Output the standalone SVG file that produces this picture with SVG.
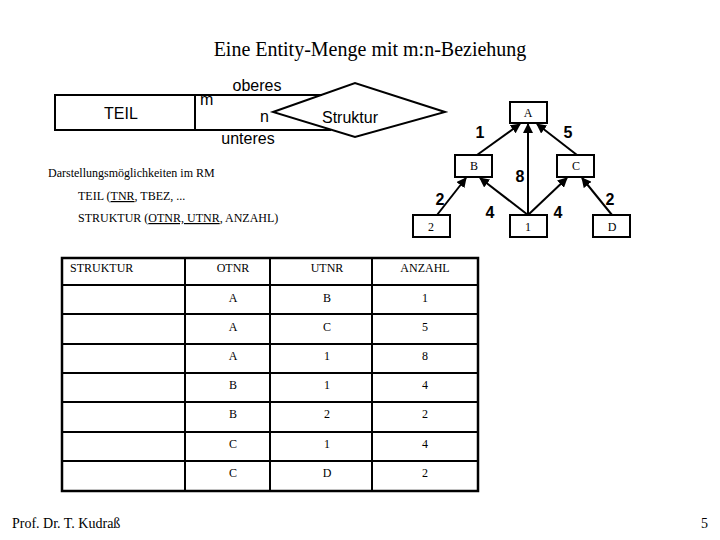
<svg xmlns="http://www.w3.org/2000/svg" width="720" height="540" viewBox="0 0 720 540">
<style>
.s{font-family:"Liberation Sans",Arial,sans-serif;font-size:16px}
.b{font-family:"Liberation Sans",Arial,sans-serif;font-size:16px;font-weight:bold}
.c{font-family:"Liberation Serif","DejaVu Serif",serif;font-size:12px}
.t{font-family:"Liberation Serif","DejaVu Serif",serif;font-size:12px;text-anchor:middle}
.box{fill:#fff;stroke:#000;stroke-width:2}
.ln{stroke:#000;stroke-width:2;fill:none}
</style>
<defs><marker id="ah" viewBox="0 0 10 10" refX="9" refY="5" markerWidth="5" markerHeight="5" orient="auto"><path d="M0,0L10,5L0,10z"/></marker></defs>
<rect width="720" height="540" fill="#fff"/>
<text x="370" y="56" text-anchor="middle" font-family="Liberation Serif,serif" font-size="20">Eine Entity-Menge mit m:n-Beziehung</text>
<g id="er">
<line class="ln" x1="195" y1="95" x2="322" y2="95"/>
<line class="ln" x1="195" y1="130" x2="331" y2="130"/>
<rect class="box" x="55" y="95" width="140" height="35"/>
<polygon class="ln" points="273,112 355,83 445,112 355,137"/>
<text class="s" x="121" y="119" text-anchor="middle">TEIL</text>
<text class="s" x="350" y="123" text-anchor="middle">Struktur</text>
<text class="s" x="257" y="91" text-anchor="middle">oberes</text>
<text class="s" x="248" y="144" text-anchor="middle">unteres</text>
<text class="s" x="200" y="105">m</text>
<text class="s" x="260" y="122">n</text>
</g>
<g id="rm" class="c">
<text x="48" y="177">Darstellungsmöglichkeiten im RM</text>
<text x="78" y="200">TEIL (<tspan text-decoration="underline">TNR</tspan>, TBEZ, ...</text>
<text x="78" y="222">STRUKTUR (<tspan text-decoration="underline">OTNR, UTNR</tspan>, ANZAHL)</text>
</g>
<g id="connectors" class="ln" marker-end="url(#ah)">
<line x1="477" y1="155" x2="520" y2="124"/>
<line x1="528" y1="215" x2="528" y2="124"/>
<line x1="577" y1="155" x2="537" y2="124"/>
<line x1="437" y1="215" x2="466" y2="178"/>
<line x1="528" y1="215" x2="480" y2="178"/>
<line x1="528" y1="215" x2="567" y2="178"/>
<line x1="612" y1="215" x2="582" y2="178"/>
</g>
<g id="nA"><rect class="box" x="510" y="102" width="37" height="21"/><text class="t" x="528" y="117">A</text></g>
<g id="nB"><rect class="box" x="455" y="155" width="37" height="22"/><text class="t" x="474" y="170">B</text></g>
<g id="nC"><rect class="box" x="557" y="155" width="37" height="22"/><text class="t" x="576" y="170">C</text></g>
<g id="n2"><rect class="box" x="413" y="215" width="37" height="22"/><text class="t" x="431" y="231">2</text></g>
<g id="n1"><rect class="box" x="510" y="215" width="37" height="22"/><text class="t" x="528" y="231">1</text></g>
<g id="nD"><rect class="box" x="593" y="215" width="37" height="22"/><text class="t" x="612" y="231">D</text></g>
<g id="labels" class="b" text-anchor="middle">
<text x="480" y="138">1</text><text x="568" y="138">5</text><text x="520" y="182">8</text>
<text x="440" y="205">2</text><text x="490" y="218">4</text><text x="558" y="218">4</text><text x="610" y="205">2</text>
</g>
<g id="table">
<rect x="62" y="258" width="416" height="233" fill="none" stroke="#000" stroke-width="2.5"/>
<g class="ln">
<line x1="185" y1="258" x2="185" y2="491"/><line x1="270" y1="258" x2="270" y2="491"/><line x1="372" y1="258" x2="372" y2="491"/>
<line x1="62" y1="285" x2="478" y2="285"/><line x1="62" y1="314" x2="478" y2="314"/><line x1="62" y1="344" x2="478" y2="344"/>
<line x1="62" y1="373" x2="478" y2="373"/><line x1="62" y1="402" x2="478" y2="402"/><line x1="62" y1="432" x2="478" y2="432"/>
<line x1="62" y1="461" x2="478" y2="461"/>
</g>
<text class="c" x="70" y="272">STRUKTUR</text>
<text class="t" x="233" y="272">OTNR</text><text class="t" x="327" y="272">UTNR</text><text class="t" x="425" y="272">ANZAHL</text>
<g class="t">
<text x="233" y="302">A</text><text x="327" y="302">B</text><text x="425" y="302">1</text>
<text x="233" y="331">A</text><text x="327" y="331">C</text><text x="425" y="331">5</text>
<text x="233" y="360">A</text><text x="327" y="360">1</text><text x="425" y="360">8</text>
<text x="233" y="389">B</text><text x="327" y="389">1</text><text x="425" y="389">4</text>
<text x="233" y="418">B</text><text x="327" y="418">2</text><text x="425" y="418">2</text>
<text x="233" y="448">C</text><text x="327" y="448">1</text><text x="425" y="448">4</text>
<text x="233" y="477">C</text><text x="327" y="477">D</text><text x="425" y="477">2</text>
</g>
</g>
<text x="12" y="528" font-family="Liberation Serif,serif" font-size="14">Prof. Dr. T. Kudraß</text>
<text x="708" y="528" font-family="Liberation Serif,serif" font-size="14" text-anchor="end">5</text>
</svg>
